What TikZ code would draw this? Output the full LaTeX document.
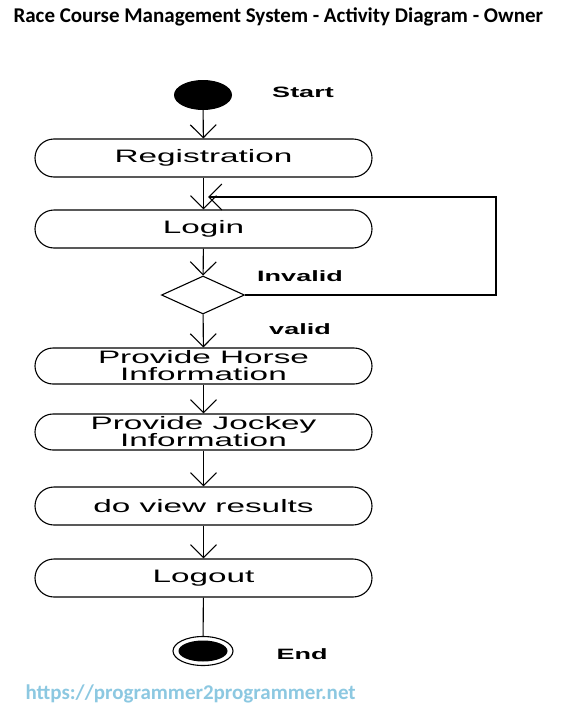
\documentclass[tikz,border=0pt]{standalone}
\usepackage{fontspec}
\setmainfont{Liberation Sans}
\newfontfamily\titlefont{Carlito}
\usetikzlibrary{arrows.meta,shapes.geometric}
\definecolor{urlblue}{RGB}{140,200,225}
\newcommand{\wide}[1]{\scalebox{1.8}[1]{#1}}
\newcommand{\widetxt}[1]{\scalebox{1.85}[1]{#1}}
\begin{document}
\begin{tikzpicture}[x=1pt,y=-1pt,
  act/.style={draw,line width=1.1pt,rounded corners=19pt,minimum width=337pt,minimum height=38pt,inner sep=0pt,align=center,font=\fontsize{18}{17}\selectfont},
  lbl/.style={font=\fontsize{15}{15}\selectfont\bfseries},
  flow/.style={line width=1.1pt,-{Straight Barb[length=13pt,width=26pt]}}]
\useasboundingbox (0,0) rectangle (578,712);
\node[anchor=west,font=\titlefont\fontsize{21}{21}\selectfont\bfseries] (title) at (10,17) {Race Course Management System - Activity Diagram - Owner};
\node[ellipse,fill=black,minimum width=58pt,minimum height=30pt,inner sep=0pt] (start) at (203,95) {};
\node[lbl] (startl) at (303,92) {\wide{Start}};
\node[act] (reg) at (203.5,158) {\widetxt{Registration}};
\node[act] (login) at (203.5,229) {\widetxt{Login}};
\node[diamond,draw,line width=1.1pt,minimum width=83pt,minimum height=38pt,inner sep=0pt,aspect=2.2] (dec) at (203,295) {};
\node[lbl] (inv) at (300,276) {\wide{Invalid}};
\node[lbl] (val) at (300,329) {\wide{valid}};
\node[act,minimum height=36pt,rounded corners=18pt] (horse) at (203.5,366) {\widetxt{Provide Horse}\\\widetxt{Information}};
\node[act,minimum height=36pt,rounded corners=18pt] (jockey) at (203.5,432) {\widetxt{Provide Jockey}\\\widetxt{Information}};
\node[act] (view) at (203.5,506) {\widetxt{do view results}};
\node[act] (logout) at (203.5,578) {\widetxt{Logout}};
\node[ellipse,draw,line width=1.1pt,minimum width=60pt,minimum height=29pt,inner sep=0pt] (endo) at (203,651) {};
\node[ellipse,fill=black,minimum width=49pt,minimum height=21pt,inner sep=0pt] (endi) at (203,651) {};
\node[lbl] (endl) at (302,654) {\wide{End}};
\node[anchor=west,text=urlblue,font=\titlefont\fontsize{21}{21}\selectfont\bfseries] (url) at (22,694) {https://programmer2programmer.net};
\coordinate (c1) at (496,295);
\coordinate (c2) at (496,197);
\coordinate (c3) at (208,197);
\draw[flow] (start) -- (reg);
\draw[flow] (reg) -- (login);
\draw[flow] (login) -- (dec);
\draw[flow] (dec.east) -- (c1) -- (c2) -- (c3);
\draw[flow] (dec) -- (horse);
\draw[flow] (horse) -- (jockey);
\draw[flow] (jockey) -- (view);
\draw[flow] (view) -- (logout);
\draw[line width=1.1pt] (logout) -- (endo);
\end{tikzpicture}
\end{document}
